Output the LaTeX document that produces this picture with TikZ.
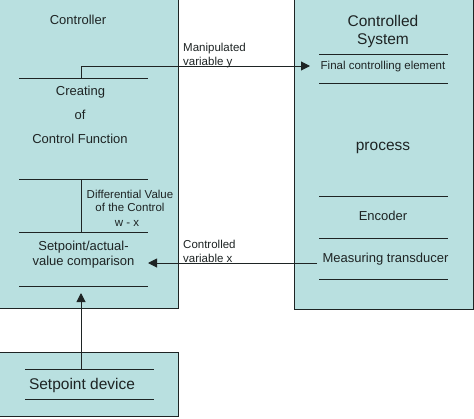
\documentclass[tikz,border=0pt]{standalone}
\usepackage{fontspec}
\setmainfont{Liberation Sans}
\usetikzlibrary{arrows.meta}
\definecolor{boxfill}{RGB}{185,224,224}
\definecolor{ink}{RGB}{30,36,36}
\begin{document}
\begin{tikzpicture}[x=1pt,y=-1pt,
  box/.style={draw=ink, line width=1pt, fill=boxfill, anchor=north west, inner sep=0},
  sep/.style={draw=ink, line width=1pt},
  big/.style={font=\fontsize{15.5}{17}\selectfont, text=ink, inner sep=0, anchor=base},
  mid/.style={font=\fontsize{13}{15}\selectfont, text=ink, inner sep=0, anchor=base},
  small/.style={font=\fontsize{11.5}{13}\selectfont, text=ink, inner sep=0, anchor=base},
  lbl/.style={small, anchor=base west},
  arr/.style={draw=ink, line width=1pt, -{Triangle[length=9pt,width=9pt]}}]
\useasboundingbox (0,0) rectangle (474,418);
\clip (0,0) rectangle (474,418);
\fill[white] (0,0) rectangle (474,418);
% boxes
\node[box, minimum width=180pt, minimum height=310pt] (ctrl) at (-2,-2) {};
\node[box, minimum width=179pt, minimum height=311pt] (sys) at (294,-2) {};
\node[box, minimum width=180pt, minimum height=64pt] (spd) at (-2,352) {};
% separators controller
\draw[sep] (19,78) -- (148,78);
\draw[sep] (19,179) -- (148,179);
\draw[sep] (19,232) -- (148,232);
\draw[sep] (19,286) -- (148,286);
\draw[sep] (81,179) -- (81,232);
% separators system
\draw[sep] (319,54) -- (448,54);
\draw[sep] (319,83) -- (448,83);
\draw[sep] (319,196) -- (448,196);
\draw[sep] (319,238) -- (448,238);
\draw[sep] (319,279) -- (448,279);
% separators setpoint device
\draw[sep] (25,369) -- (154,369);
\draw[sep] (25,399) -- (154,399);
% texts controller
\node[mid] (tctrl) at (78,24) {Controller};
\node[mid] (tcre) at (80.5,95) {Creating};
\node[mid] (tof) at (80,119) {of};
\node[mid] (tcf) at (80,143) {Control Function};
\node[small] (td1) at (130,198) {Differential Value};
\node[small] (td2) at (130,211.5) {of the Control};
\node[small] (td3) at (127,226) {w - x};
\node[mid] (tsa1) at (83.5,250) {Setpoint/actual-};
\node[mid] (tsa2) at (83.5,265) {value comparison};
% texts system
\node[big] (tcs1) at (383,26) {Controlled};
\node[big] (tcs2) at (383,44) {System};
\node[small] (tfce) at (383,69.5) {Final controlling element};
\node[big] (tproc) at (383,150) {process};
\node[mid] (tenc) at (383,220) {Encoder};
\node[mid] (tmt) at (385.5,262) {Measuring transducer};
% setpoint device
\node[big] (tspd) at (82,389) {Setpoint device};
% labels
\node[lbl] (lm1) at (183,51.5) {Manipulated};
\node[lbl] (lm2) at (183,65.5) {variable y};
\node[lbl] (lc1) at (183,248.5) {Controlled};
\node[lbl] (lc2) at (183,262.5) {variable x};
% connectors
\coordinate (yS) at (81,78);
\coordinate (yE) at (310,66);
\draw[arr] (yS) |- (yE);
\coordinate (xS) at (317,263);
\coordinate (xE) at (148,263);
\draw[arr] (xS) -- (xE);
\coordinate (wS) at (81,369);
\coordinate (wE) at (81,293);
\draw[arr] (wS) -- (wE);
\end{tikzpicture}
\end{document}
